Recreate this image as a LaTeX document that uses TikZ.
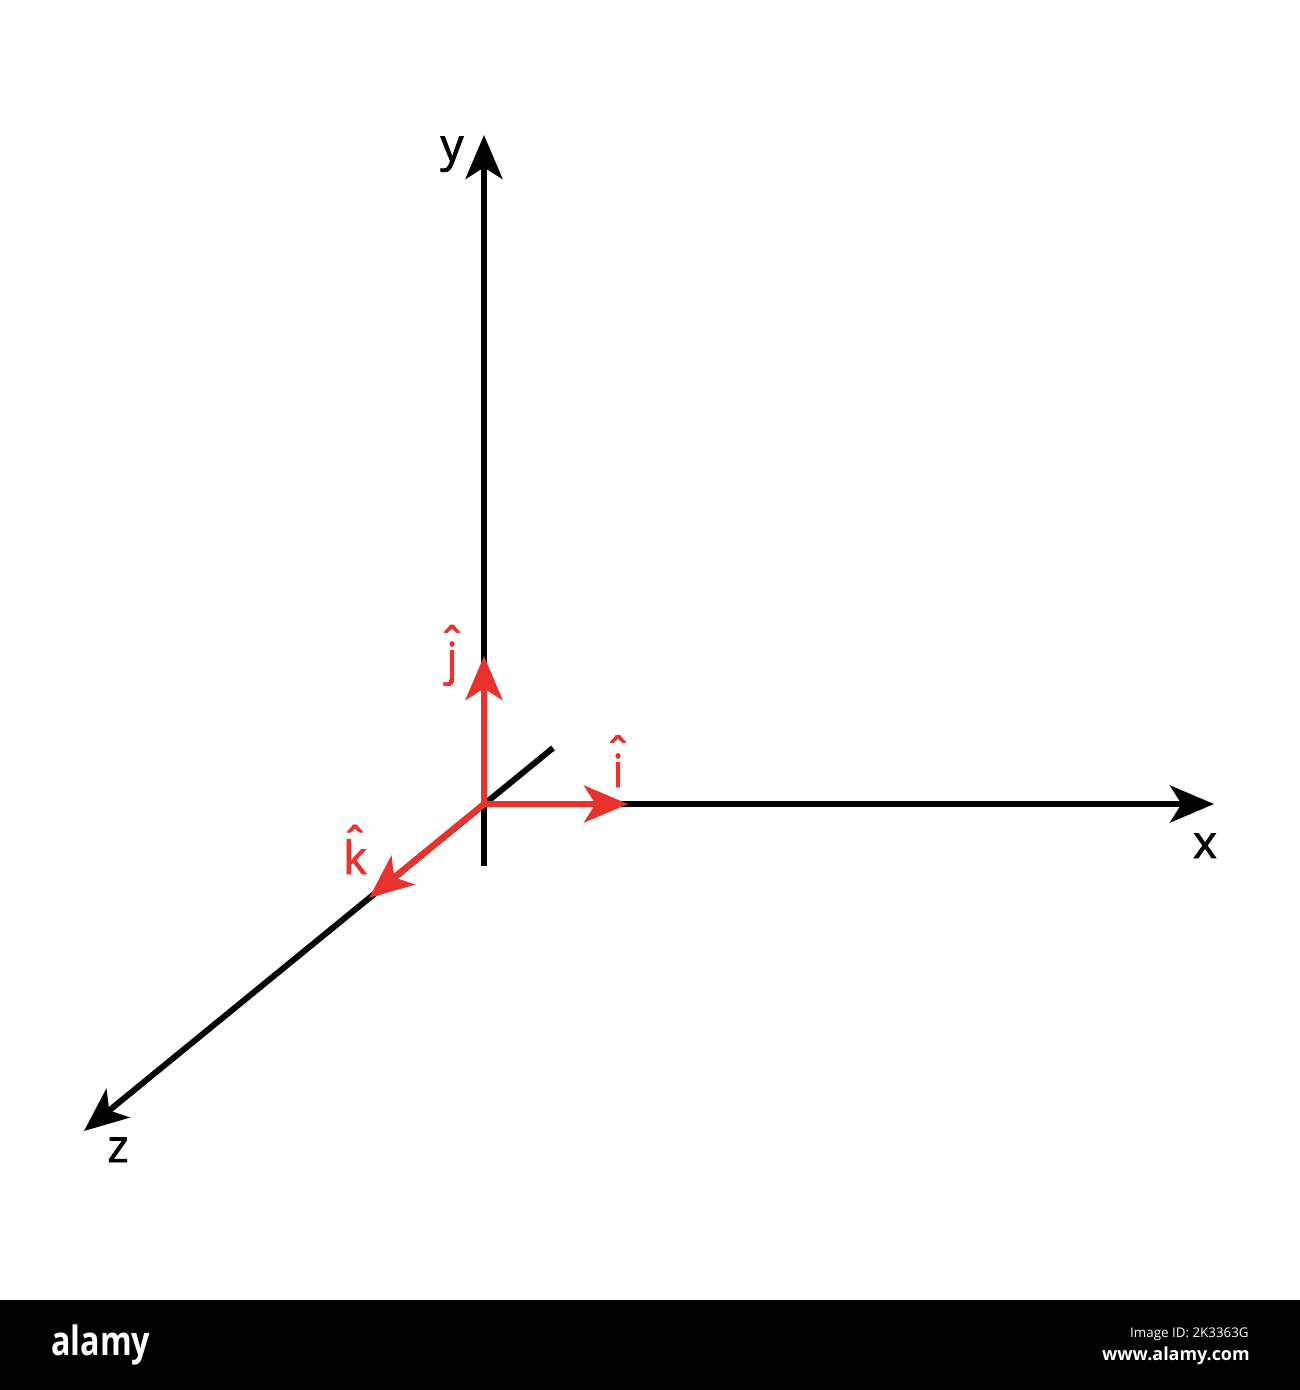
\documentclass[tikz,border=0pt]{standalone}
\usepackage{fontspec}
\setmainfont{Open Sans}
\newfontfamily\medfont{Open Sans}[FakeBold=1.6]
\usetikzlibrary{arrows.meta}
\definecolor{vecred}{RGB}{233,50,46}
\newcommand\withhat[2]{\ooalign{#1\cr\hidewidth\raisebox{#2}{ˆ}\hidewidth\cr}}
\tikzset{
  axis/.style={line width=3.4pt, black, -{Stealth[length=25pt,width=21pt,inset=6.5pt]}},
  vec/.style={line width=3.6pt, vecred, -{Stealth[length=25pt,width=21pt,inset=6.5pt]}},
  lbl/.style={inner sep=0pt, anchor=base, font=\medfont\fontsize{26pt}{30pt}\selectfont},
  redlbl/.style={lbl, text=vecred},
  wm/.style={inner sep=0pt, anchor=base, text=white}
}
\begin{document}
\begin{tikzpicture}[x=0.02cm,y=-0.02cm]
\useasboundingbox (0,0) rectangle (1300,1390);
\fill[white] (0,0) rectangle (1300,1390);
% points
\coordinate (O) at (484,804);
\coordinate (ytip) at (484,135);
\coordinate (ybot) at (484,866);
\coordinate (xtip) at (1214,804);
\coordinate (zback) at (553,748);
\coordinate (ztip) at (84,1131);
\coordinate (jtip) at (484,656);
\coordinate (itip) at (628,804);
\coordinate (ktip) at (369,898);
% axes
\draw[axis] (ybot) -- (ytip);
\draw[axis] (O) -- (xtip);
\draw[axis] (zback) -- (ztip);
% unit vectors
\draw[vec] (O) -- (jtip);
\draw[vec] (O) -- (itip);
\draw[vec] (O) -- (ktip);
% axis labels
\node[lbl] (xl) at (1205,858) {x};
\node[lbl] (yl) at (452,161) {y};
\node[lbl] (zl) at (118,1162) {z};
% unit vector labels
\node[redlbl] (jl) at (452,675) {\withhat{j}{8.5pt}};
\node[redlbl] (il) at (618,787) {\withhat{i}{9.6pt}};
\node[redlbl] (kl) at (355,874) {\withhat{k}{8pt}};
% watermark bar
\fill[black] (0,1300) rectangle (1300,1390);
\node[wm, anchor=base west, font=\fontsize{23pt}{26pt}\selectfont\bfseries, xscale=0.8] (wmlogo) at (51,1355) {alamy};
\node[wm, anchor=base east, font=\fontsize{7.6pt}{9pt}\selectfont] (wmid) at (1249,1337) {Image ID: 2K3363G};
\node[wm, anchor=base east, font=\fontsize{10.2pt}{12pt}\selectfont\bfseries] (wmurl) at (1250,1360) {www.alamy.com};
\end{tikzpicture}
\end{document}
